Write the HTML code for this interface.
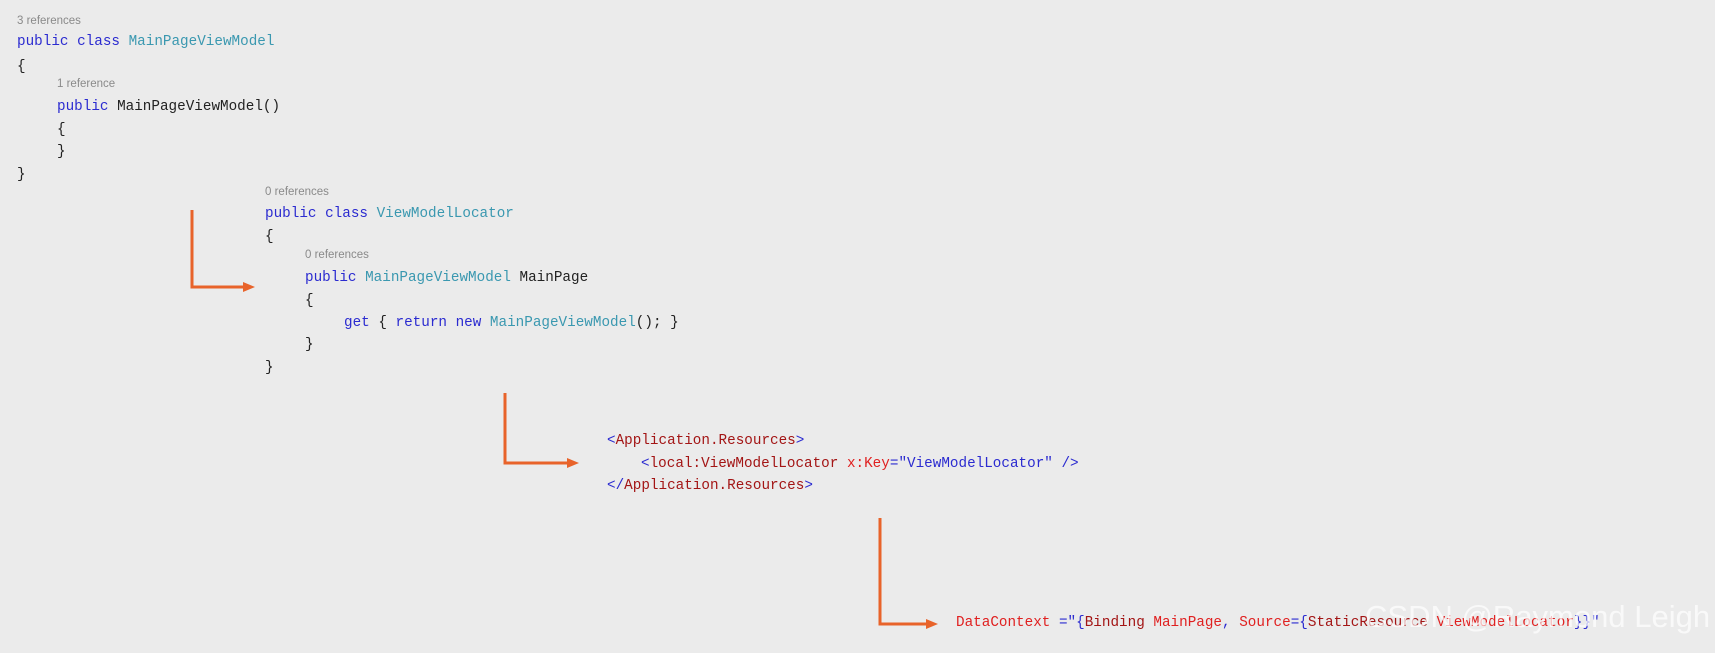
<!DOCTYPE html>
<html><head><style>
body{margin:0;width:1715px;height:653px;background:#ebebeb;position:relative;overflow:hidden}
.c{position:absolute;font-family:"Liberation Mono",monospace;font-size:14.3px;line-height:18px;color:#222;white-space:pre}
.r{position:absolute;font-family:"Liberation Sans",sans-serif;font-size:11.5px;color:#8a8a8a;white-space:pre}
.k{color:#2b2bd0}.t{color:#3a98b0}.br{color:#a31515}.b{color:#2b2bd0}.a{color:#e02020}.v{color:#2b2bd0}
</style></head><body>
<div class="r" style="left:17px;top:15px">3 references</div>
<div class="c" style="left:17px;top:33px"><span class="k">public</span> <span class="k">class</span> <span class="t">MainPageViewModel</span></div>
<div class="c" style="left:17px;top:58px">{</div>
<div class="r" style="left:57px;top:78px">1 reference</div>
<div class="c" style="left:57px;top:98px"><span class="k">public</span> MainPageViewModel()</div>
<div class="c" style="left:57px;top:121px">{</div>
<div class="c" style="left:57px;top:143px">}</div>
<div class="c" style="left:17px;top:166px">}</div>

<div class="r" style="left:265px;top:186px">0 references</div>
<div class="c" style="left:265px;top:205px"><span class="k">public</span> <span class="k">class</span> <span class="t">ViewModelLocator</span></div>
<div class="c" style="left:265px;top:228px">{</div>
<div class="r" style="left:305px;top:249px">0 references</div>
<div class="c" style="left:305px;top:269px"><span class="k">public</span> <span class="t">MainPageViewModel</span> MainPage</div>
<div class="c" style="left:305px;top:292px">{</div>
<div class="c" style="left:344px;top:314px"><span class="k">get</span> { <span class="k">return</span> <span class="k">new</span> <span class="t">MainPageViewModel</span>(); }</div>
<div class="c" style="left:305px;top:336px">}</div>
<div class="c" style="left:265px;top:359px">}</div>

<div class="c" style="left:607px;top:432px"><span class="b">&lt;</span><span class="br">Application.Resources</span><span class="b">&gt;</span></div>
<div class="c" style="left:641px;top:455px"><span class="b">&lt;</span><span class="br">local:ViewModelLocator</span> <span class="a">x:Key</span><span class="b">=</span><span class="v">"ViewModelLocator"</span> <span class="b">/&gt;</span></div>
<div class="c" style="left:607px;top:477px"><span class="b">&lt;/</span><span class="br">Application.Resources</span><span class="b">&gt;</span></div>

<div class="c" style="left:956px;top:614px"><span class="a">DataContext</span> <span class="b">="{</span><span class="br">Binding</span> <span class="a">MainPage</span><span class="b">,</span> <span class="a">Source</span><span class="b">={</span><span class="br">StaticResource</span> <span class="a">ViewModelLocator</span><span class="b">}}"</span></div>
<div style="position:absolute;left:1365px;top:599px;font-family:'Liberation Sans',sans-serif;font-size:31px;color:rgba(255,255,255,0.7);white-space:pre">CSDN @Raymond Leigh</div>

<svg style="position:absolute;left:0;top:0" width="1715" height="653">
<g fill="none" stroke="#e8632a" stroke-width="3">
<path d="M192 210 V287 H243"/><path d="M505 393 V463 H567"/><path d="M880 518 V624 H926"/>
</g>
<g fill="#e8632a">
<path d="M243 282 L255 287 L243 292Z"/><path d="M567 458 L579 463 L567 468Z"/><path d="M926 619 L938 624 L926 629Z"/>
</g>
</svg>
</body></html>
